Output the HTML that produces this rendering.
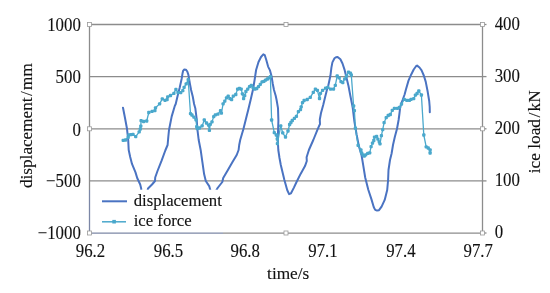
<!DOCTYPE html>
<html><head><meta charset="utf-8"><style>
html,body{margin:0;padding:0;background:#fff;}
svg{display:block;filter:blur(0.3px);}
text{font-family:"Liberation Serif",serif;fill:#111;stroke:#111;stroke-width:0.12px;} svg{font-size:17.5px;}
</style></head><body>
<svg width="550" height="293" viewBox="0 0 550 293">
<rect width="550" height="293" fill="#fff"/>
<g stroke="#8c8c8c" stroke-width="1.3" fill="none"><line x1="89.5" y1="24.5" x2="482.5" y2="24.5"/><line x1="89.5" y1="76.6" x2="482.5" y2="76.6"/><line x1="89.5" y1="128.8" x2="482.5" y2="128.8"/><line x1="89.5" y1="180.9" x2="482.5" y2="180.9"/><line x1="482.5" y1="24.5" x2="486.5" y2="24.5"/><line x1="482.5" y1="76.6" x2="486.5" y2="76.6"/><line x1="482.5" y1="128.8" x2="486.5" y2="128.8"/><line x1="482.5" y1="180.9" x2="486.5" y2="180.9"/><line x1="482.5" y1="233.0" x2="486.5" y2="233.0"/></g>
<path d="M123.0 107.7 L125.0 118.0 L127.0 128.8 L128.2 140.0 L128.7 150.0 L130.2 157.0 L132.0 163.9 L135.5 172.4 L137.2 178.0 L140.2 184.5 L141.2 188.5 L141.4 192.0 M147.3 192.0 L148.0 188.5 L152.0 184.5 L155.0 181.0 L155.2 177.5 L157.5 171.0 L161.6 160.7 L165.3 150.5 L167.6 145.0 L168.3 137.0 L169.0 130.0 L169.9 125.5 L171.7 116.4 L174.7 106.2 L175.7 104.0 L177.7 95.4 L179.8 87.2 L181.6 79.0 L182.5 73.6 L183.2 70.6 L184.3 69.5 L185.9 69.7 L187.3 71.5 L188.4 74.9 L189.1 79.0 L189.8 83.1 L191.1 90.0 L192.8 96.8 L194.1 104.0 L195.3 108.2 L196.7 119.1 L197.3 128.7 L198.7 140.0 L200.7 150.2 L202.4 162.2 L204.1 174.1 L205.8 181.0 L209.2 186.1 L210.3 190.0 M216.5 190.0 L217.6 188.0 L222.3 182.0 L223.2 178.0 L227.9 170.0 L232.5 162.0 L236.7 155.0 L238.6 150.0 L239.2 145.0 L240.2 140.0 L243.5 128.8 L246.8 115.6 L248.2 110.0 L250.6 100.0 L252.9 90.0 L254.6 80.0 L256.1 70.0 L258.5 62.0 L261.0 57.0 L263.3 54.4 L264.8 55.2 L266.3 60.0 L268.1 66.6 L270.0 70.4 L271.5 76.0 L272.8 84.0 L274.0 90.0 L275.7 95.7 L276.6 100.0 L278.0 108.2 L278.4 120.5 L278.0 132.8 L277.8 140.0 L278.3 150.0 L279.5 158.0 L280.8 165.0 L284.4 180.0 L287.2 190.0 L289.1 194.1 L291.0 193.3 L293.9 187.6 L296.3 182.5 L300.6 173.9 L305.0 166.1 L306.8 161.0 L306.6 157.2 L308.9 150.0 L310.2 147.0 L313.3 140.0 L317.8 128.8 L320.0 124.0 L319.8 119.5 L321.0 113.0 L323.2 105.0 L325.5 95.5 L326.9 90.0 L328.3 85.5 L330.4 75.8 L331.4 67.6 L332.4 62.4 L334.5 58.3 L336.0 57.2 L337.6 56.9 L340.4 59.2 L342.5 63.5 L344.5 69.6 L346.5 77.8 L348.5 86.0 L350.4 96.0 L352.2 105.0 L352.8 108.3 L354.4 121.7 L356.7 135.0 L358.9 146.1 L361.6 155.5 L363.2 165.2 L365.2 177.5 L368.3 189.8 L371.4 199.1 L373.8 207.3 L375.2 209.9 L377.0 210.6 L379.0 210.2 L381.6 206.6 L384.7 199.9 L387.2 190.0 L388.1 180.0 L388.5 170.0 L390.0 160.0 L391.6 153.5 L393.0 145.0 L394.8 137.0 L397.0 128.8 L398.6 120.0 L399.4 114.0 L400.1 108.0 L401.2 103.5 L402.8 99.5 L404.6 94.5 L406.0 89.2 L408.5 80.6 L411.1 74.7 L413.7 69.5 L416.2 66.0 L417.1 65.6 L419.5 67.5 L421.6 70.3 L423.8 75.5 L425.7 81.6 L427.7 91.8 L429.2 101.0 L429.7 107.0 L429.8 112.3" fill="none" stroke="#4a73c2" stroke-width="2" stroke-linejoin="round" stroke-linecap="round"/>
<path d="M123.2 140.3 L125.5 140.0 L128.2 137.3 L128.9 134.8 L131.0 134.6 L133.0 134.3 L135.7 136.6 L139.2 131.8 L140.3 129.0 L140.8 126.2 L141.1 120.6 L143.6 121.5 L146.7 121.0 L148.8 112.5 L152.1 111.4 L154.9 110.7 L155.5 107.8 L159.6 103.9 L162.3 98.9 L165.0 100.3 L167.1 99.6 L167.7 96.8 L170.5 95.5 L173.9 93.4 L175.9 89.3 L178.0 92.7 L180.7 92.7 L182.8 90.7 L184.1 87.3 L186.2 83.9 L188.2 79.7 L190.5 113.7 L191.9 115.0 L193.9 117.1 L196.0 119.8 L196.7 126.6 L197.3 128.7 L199.4 128.0 L202.1 125.9 L204.3 120.0 L206.5 123.0 L208.5 125.2 L209.4 130.3 L210.3 124.3 L212.0 121.8 L213.7 116.6 L215.4 114.9 L217.9 114.1 L220.5 110.6 L221.4 113.2 L223.1 103.8 L224.8 101.2 L226.5 97.8 L228.2 96.1 L229.9 98.7 L231.6 99.5 L233.3 96.1 L235.8 94.5 L237.6 89.1 L239.4 88.5 L241.2 89.1 L242.4 93.9 L243.6 98.7 L244.7 95.7 L245.9 91.5 L247.7 89.1 L249.5 86.7 L251.3 85.5 L253.1 87.9 L254.9 89.1 L256.7 88.5 L258.5 86.7 L260.3 84.3 L262.1 81.9 L263.9 81.3 L265.6 80.1 L267.4 79.0 L269.2 77.8 L270.4 76.6 L271.6 120.0 L274.3 132.7 L276.3 135.0 L277.3 139.0 L277.4 143.6 L280.7 125.9 L282.7 132.8 L285.5 137.1 L288.0 131.0 L289.6 124.5 L290.9 122.5 L292.3 120.5 L294.4 118.4 L296.4 116.4 L298.4 111.6 L300.5 109.6 L301.2 106.8 L302.5 102.7 L304.1 100.5 L307.2 99.5 L310.3 97.4 L313.3 92.3 L315.4 89.2 L317.4 90.3 L319.5 98.5 L320.5 93.3 L322.6 90.3 L325.6 88.2 L327.8 87.3 L330.6 89.1 L333.5 89.1 L335.3 85.4 L337.2 76.0 L339.1 77.9 L341.0 81.6 L342.8 82.6 L344.7 78.8 L346.6 76.0 L348.5 72.2 L350.4 73.2 L351.3 75.0 L353.6 106.0 L354.4 110.6 L355.4 128.2 L358.1 145.3 L360.9 150.0 L361.6 152.8 L362.9 154.8 L364.3 156.2 L365.7 154.8 L367.7 153.4 L369.7 152.8 L371.1 146.6 L372.5 143.2 L373.8 140.5 L374.5 137.1 L376.6 136.4 L377.9 139.1 L379.3 141.8 L380.0 143.9 L381.4 135.7 L382.7 129.6 L384.1 122.7 L386.2 117.6 L388.2 115.5 L390.3 114.5 L392.3 110.4 L394.4 108.3 L397.4 108.3 L399.5 107.3 L401.5 104.2 L404.3 99.4 L406.8 100.3 L409.4 100.3 L411.1 99.4 L413.7 98.6 L415.4 95.2 L417.1 93.5 L418.8 90.9 L421.4 95.0 L423.8 135.0 L426.2 146.9 L428.2 148.0 L430.1 150.0 L430.1 153.0" fill="none" stroke="#4aa8cc" stroke-width="1.3" stroke-linejoin="round"/>
<g fill="#4aa8cc"><rect x="121.55" y="138.65" width="3.3" height="3.3" rx="1"/><rect x="123.85" y="138.35" width="3.3" height="3.3" rx="1"/><rect x="126.55" y="135.65" width="3.3" height="3.3" rx="1"/><rect x="127.25" y="133.15" width="3.3" height="3.3" rx="1"/><rect x="129.35" y="132.95" width="3.3" height="3.3" rx="1"/><rect x="131.35" y="132.65" width="3.3" height="3.3" rx="1"/><rect x="134.05" y="134.95" width="3.3" height="3.3" rx="1"/><rect x="137.55" y="130.15" width="3.3" height="3.3" rx="1"/><rect x="138.65" y="127.35" width="3.3" height="3.3" rx="1"/><rect x="139.15" y="124.55" width="3.3" height="3.3" rx="1"/><rect x="139.45" y="118.95" width="3.3" height="3.3" rx="1"/><rect x="141.95" y="119.85" width="3.3" height="3.3" rx="1"/><rect x="145.05" y="119.35" width="3.3" height="3.3" rx="1"/><rect x="147.15" y="110.85" width="3.3" height="3.3" rx="1"/><rect x="150.45" y="109.75" width="3.3" height="3.3" rx="1"/><rect x="153.25" y="109.05" width="3.3" height="3.3" rx="1"/><rect x="153.85" y="106.15" width="3.3" height="3.3" rx="1"/><rect x="157.95" y="102.25" width="3.3" height="3.3" rx="1"/><rect x="160.65" y="97.25" width="3.3" height="3.3" rx="1"/><rect x="163.35" y="98.65" width="3.3" height="3.3" rx="1"/><rect x="165.45" y="97.95" width="3.3" height="3.3" rx="1"/><rect x="166.05" y="95.15" width="3.3" height="3.3" rx="1"/><rect x="168.85" y="93.85" width="3.3" height="3.3" rx="1"/><rect x="172.25" y="91.75" width="3.3" height="3.3" rx="1"/><rect x="174.25" y="87.65" width="3.3" height="3.3" rx="1"/><rect x="176.35" y="91.05" width="3.3" height="3.3" rx="1"/><rect x="179.05" y="91.05" width="3.3" height="3.3" rx="1"/><rect x="181.15" y="89.05" width="3.3" height="3.3" rx="1"/><rect x="182.45" y="85.65" width="3.3" height="3.3" rx="1"/><rect x="184.55" y="82.25" width="3.3" height="3.3" rx="1"/><rect x="186.55" y="78.05" width="3.3" height="3.3" rx="1"/><rect x="188.85" y="112.05" width="3.3" height="3.3" rx="1"/><rect x="190.25" y="113.35" width="3.3" height="3.3" rx="1"/><rect x="192.25" y="115.45" width="3.3" height="3.3" rx="1"/><rect x="194.35" y="118.15" width="3.3" height="3.3" rx="1"/><rect x="195.05" y="124.95" width="3.3" height="3.3" rx="1"/><rect x="195.65" y="127.05" width="3.3" height="3.3" rx="1"/><rect x="197.75" y="126.35" width="3.3" height="3.3" rx="1"/><rect x="200.45" y="124.25" width="3.3" height="3.3" rx="1"/><rect x="202.65" y="118.35" width="3.3" height="3.3" rx="1"/><rect x="204.85" y="121.35" width="3.3" height="3.3" rx="1"/><rect x="206.85" y="123.55" width="3.3" height="3.3" rx="1"/><rect x="207.75" y="128.65" width="3.3" height="3.3" rx="1"/><rect x="208.65" y="122.65" width="3.3" height="3.3" rx="1"/><rect x="210.35" y="120.15" width="3.3" height="3.3" rx="1"/><rect x="212.05" y="114.95" width="3.3" height="3.3" rx="1"/><rect x="213.75" y="113.25" width="3.3" height="3.3" rx="1"/><rect x="216.25" y="112.45" width="3.3" height="3.3" rx="1"/><rect x="218.85" y="108.95" width="3.3" height="3.3" rx="1"/><rect x="219.75" y="111.55" width="3.3" height="3.3" rx="1"/><rect x="221.45" y="102.15" width="3.3" height="3.3" rx="1"/><rect x="223.15" y="99.55" width="3.3" height="3.3" rx="1"/><rect x="224.85" y="96.15" width="3.3" height="3.3" rx="1"/><rect x="226.55" y="94.45" width="3.3" height="3.3" rx="1"/><rect x="228.25" y="97.05" width="3.3" height="3.3" rx="1"/><rect x="229.95" y="97.85" width="3.3" height="3.3" rx="1"/><rect x="231.65" y="94.45" width="3.3" height="3.3" rx="1"/><rect x="234.15" y="92.85" width="3.3" height="3.3" rx="1"/><rect x="235.95" y="87.45" width="3.3" height="3.3" rx="1"/><rect x="237.75" y="86.85" width="3.3" height="3.3" rx="1"/><rect x="239.55" y="87.45" width="3.3" height="3.3" rx="1"/><rect x="240.75" y="92.25" width="3.3" height="3.3" rx="1"/><rect x="241.95" y="97.05" width="3.3" height="3.3" rx="1"/><rect x="243.05" y="94.05" width="3.3" height="3.3" rx="1"/><rect x="244.25" y="89.85" width="3.3" height="3.3" rx="1"/><rect x="246.05" y="87.45" width="3.3" height="3.3" rx="1"/><rect x="247.85" y="85.05" width="3.3" height="3.3" rx="1"/><rect x="249.65" y="83.85" width="3.3" height="3.3" rx="1"/><rect x="251.45" y="86.25" width="3.3" height="3.3" rx="1"/><rect x="253.25" y="87.45" width="3.3" height="3.3" rx="1"/><rect x="255.05" y="86.85" width="3.3" height="3.3" rx="1"/><rect x="256.85" y="85.05" width="3.3" height="3.3" rx="1"/><rect x="258.65" y="82.65" width="3.3" height="3.3" rx="1"/><rect x="260.45" y="80.25" width="3.3" height="3.3" rx="1"/><rect x="262.25" y="79.65" width="3.3" height="3.3" rx="1"/><rect x="263.95" y="78.45" width="3.3" height="3.3" rx="1"/><rect x="265.75" y="77.35" width="3.3" height="3.3" rx="1"/><rect x="267.55" y="76.15" width="3.3" height="3.3" rx="1"/><rect x="268.75" y="74.95" width="3.3" height="3.3" rx="1"/><rect x="269.95" y="118.35" width="3.3" height="3.3" rx="1"/><rect x="272.65" y="131.05" width="3.3" height="3.3" rx="1"/><rect x="274.65" y="133.35" width="3.3" height="3.3" rx="1"/><rect x="275.65" y="137.35" width="3.3" height="3.3" rx="1"/><rect x="275.75" y="141.95" width="3.3" height="3.3" rx="1"/><rect x="279.05" y="124.25" width="3.3" height="3.3" rx="1"/><rect x="281.05" y="131.15" width="3.3" height="3.3" rx="1"/><rect x="283.85" y="135.45" width="3.3" height="3.3" rx="1"/><rect x="286.35" y="129.35" width="3.3" height="3.3" rx="1"/><rect x="287.95" y="122.85" width="3.3" height="3.3" rx="1"/><rect x="289.25" y="120.85" width="3.3" height="3.3" rx="1"/><rect x="290.65" y="118.85" width="3.3" height="3.3" rx="1"/><rect x="292.75" y="116.75" width="3.3" height="3.3" rx="1"/><rect x="294.75" y="114.75" width="3.3" height="3.3" rx="1"/><rect x="296.75" y="109.95" width="3.3" height="3.3" rx="1"/><rect x="298.85" y="107.95" width="3.3" height="3.3" rx="1"/><rect x="299.55" y="105.15" width="3.3" height="3.3" rx="1"/><rect x="300.85" y="101.05" width="3.3" height="3.3" rx="1"/><rect x="302.45" y="98.85" width="3.3" height="3.3" rx="1"/><rect x="305.55" y="97.85" width="3.3" height="3.3" rx="1"/><rect x="308.65" y="95.75" width="3.3" height="3.3" rx="1"/><rect x="311.65" y="90.65" width="3.3" height="3.3" rx="1"/><rect x="313.75" y="87.55" width="3.3" height="3.3" rx="1"/><rect x="315.75" y="88.65" width="3.3" height="3.3" rx="1"/><rect x="317.85" y="96.85" width="3.3" height="3.3" rx="1"/><rect x="318.85" y="91.65" width="3.3" height="3.3" rx="1"/><rect x="320.95" y="88.65" width="3.3" height="3.3" rx="1"/><rect x="323.95" y="86.55" width="3.3" height="3.3" rx="1"/><rect x="326.15" y="85.65" width="3.3" height="3.3" rx="1"/><rect x="328.95" y="87.45" width="3.3" height="3.3" rx="1"/><rect x="331.85" y="87.45" width="3.3" height="3.3" rx="1"/><rect x="333.65" y="83.75" width="3.3" height="3.3" rx="1"/><rect x="335.55" y="74.35" width="3.3" height="3.3" rx="1"/><rect x="337.45" y="76.25" width="3.3" height="3.3" rx="1"/><rect x="339.35" y="79.95" width="3.3" height="3.3" rx="1"/><rect x="341.15" y="80.95" width="3.3" height="3.3" rx="1"/><rect x="343.05" y="77.15" width="3.3" height="3.3" rx="1"/><rect x="344.95" y="74.35" width="3.3" height="3.3" rx="1"/><rect x="346.85" y="70.55" width="3.3" height="3.3" rx="1"/><rect x="348.75" y="71.55" width="3.3" height="3.3" rx="1"/><rect x="349.65" y="73.35" width="3.3" height="3.3" rx="1"/><rect x="351.95" y="104.35" width="3.3" height="3.3" rx="1"/><rect x="352.75" y="108.95" width="3.3" height="3.3" rx="1"/><rect x="353.75" y="126.55" width="3.3" height="3.3" rx="1"/><rect x="356.45" y="143.65" width="3.3" height="3.3" rx="1"/><rect x="359.25" y="148.35" width="3.3" height="3.3" rx="1"/><rect x="359.95" y="151.15" width="3.3" height="3.3" rx="1"/><rect x="361.25" y="153.15" width="3.3" height="3.3" rx="1"/><rect x="362.65" y="154.55" width="3.3" height="3.3" rx="1"/><rect x="364.05" y="153.15" width="3.3" height="3.3" rx="1"/><rect x="366.05" y="151.75" width="3.3" height="3.3" rx="1"/><rect x="368.05" y="151.15" width="3.3" height="3.3" rx="1"/><rect x="369.45" y="144.95" width="3.3" height="3.3" rx="1"/><rect x="370.85" y="141.55" width="3.3" height="3.3" rx="1"/><rect x="372.15" y="138.85" width="3.3" height="3.3" rx="1"/><rect x="372.85" y="135.45" width="3.3" height="3.3" rx="1"/><rect x="374.95" y="134.75" width="3.3" height="3.3" rx="1"/><rect x="376.25" y="137.45" width="3.3" height="3.3" rx="1"/><rect x="377.65" y="140.15" width="3.3" height="3.3" rx="1"/><rect x="378.35" y="142.25" width="3.3" height="3.3" rx="1"/><rect x="379.75" y="134.05" width="3.3" height="3.3" rx="1"/><rect x="381.05" y="127.95" width="3.3" height="3.3" rx="1"/><rect x="382.45" y="121.05" width="3.3" height="3.3" rx="1"/><rect x="384.55" y="115.95" width="3.3" height="3.3" rx="1"/><rect x="386.55" y="113.85" width="3.3" height="3.3" rx="1"/><rect x="388.65" y="112.85" width="3.3" height="3.3" rx="1"/><rect x="390.65" y="108.75" width="3.3" height="3.3" rx="1"/><rect x="392.75" y="106.65" width="3.3" height="3.3" rx="1"/><rect x="395.75" y="106.65" width="3.3" height="3.3" rx="1"/><rect x="397.85" y="105.65" width="3.3" height="3.3" rx="1"/><rect x="399.85" y="102.55" width="3.3" height="3.3" rx="1"/><rect x="402.65" y="97.75" width="3.3" height="3.3" rx="1"/><rect x="405.15" y="98.65" width="3.3" height="3.3" rx="1"/><rect x="407.75" y="98.65" width="3.3" height="3.3" rx="1"/><rect x="409.45" y="97.75" width="3.3" height="3.3" rx="1"/><rect x="412.05" y="96.95" width="3.3" height="3.3" rx="1"/><rect x="413.75" y="93.55" width="3.3" height="3.3" rx="1"/><rect x="415.45" y="91.85" width="3.3" height="3.3" rx="1"/><rect x="417.15" y="89.25" width="3.3" height="3.3" rx="1"/><rect x="419.75" y="93.35" width="3.3" height="3.3" rx="1"/><rect x="422.15" y="133.35" width="3.3" height="3.3" rx="1"/><rect x="424.55" y="145.25" width="3.3" height="3.3" rx="1"/><rect x="426.55" y="146.35" width="3.3" height="3.3" rx="1"/><rect x="428.45" y="148.35" width="3.3" height="3.3" rx="1"/><rect x="428.45" y="151.35" width="3.3" height="3.3" rx="1"/></g>
<rect x="90.2" y="189.7" width="140" height="42.7" fill="#fff"/>
<g stroke="#8c8c8c" stroke-width="1.3" fill="none">
<line x1="89.5" y1="24" x2="89.5" y2="190"/><line x1="482.5" y1="24" x2="482.5" y2="233.5"/><line x1="223" y1="233.2" x2="483" y2="233.2"/>
</g>
<g stroke="#7c87a6" stroke-width="1.3" fill="none"><line x1="89.5" y1="190" x2="89.5" y2="233.5"/><line x1="89" y1="233.2" x2="223" y2="233.2"/></g>
<g fill="#fff" stroke="#999" stroke-width="0.8"><rect x="87.5" y="22.5" width="4" height="4"/><rect x="284.0" y="22.5" width="4" height="4"/><rect x="480.5" y="22.5" width="4" height="4"/><rect x="87.5" y="126.8" width="4" height="4"/><rect x="480.5" y="126.8" width="4" height="4"/><rect x="87.5" y="231.0" width="4" height="4"/><rect x="284.0" y="231.0" width="4" height="4"/><rect x="480.5" y="231.0" width="4" height="4"/></g>
<line x1="102" y1="201.3" x2="127" y2="201.3" stroke="#4a73c2" stroke-width="2"/>
<line x1="102" y1="221.8" x2="126" y2="221.8" stroke="#4aa8cc" stroke-width="1.5"/>
<rect x="112.3" y="219.9" width="3.6" height="3.6" fill="#4aa8cc"/>
<g><text transform="translate(80.8 30.5) scale(0.930 1)" text-anchor="end" style="font-size:18.1px">1000</text><text transform="translate(80.8 82.6) scale(0.930 1)" text-anchor="end" style="font-size:18.1px">500</text><text transform="translate(80.8 136.3) scale(0.930 1)" text-anchor="end" style="font-size:18.1px">0</text><text transform="translate(80.8 186.9) scale(0.930 1)" text-anchor="end" style="font-size:18.1px">−500</text><text transform="translate(80.8 239.0) scale(0.930 1)" text-anchor="end" style="font-size:18.1px">−1000</text><text transform="translate(494.7 29.9) scale(0.930 1)" style="font-size:18.1px">400</text><text transform="translate(494.7 82.0) scale(0.930 1)" style="font-size:18.1px">300</text><text transform="translate(494.7 134.2) scale(0.930 1)" style="font-size:18.1px">200</text><text transform="translate(494.7 186.3) scale(0.930 1)" style="font-size:18.1px">100</text><text transform="translate(494.7 238.4) scale(0.930 1)" style="font-size:18.1px">0</text><text transform="translate(90.5 257.3) scale(0.930 1)" text-anchor="middle" style="font-size:18.1px">96.2</text><text transform="translate(168.5 257.3) scale(0.930 1)" text-anchor="middle" style="font-size:18.1px">96.5</text><text transform="translate(245.2 257.3) scale(0.930 1)" text-anchor="middle" style="font-size:18.1px">96.8</text><text transform="translate(323.0 257.3) scale(0.930 1)" text-anchor="middle" style="font-size:18.1px">97.1</text><text transform="translate(400.9 257.3) scale(0.930 1)" text-anchor="middle" style="font-size:18.1px">97.4</text><text transform="translate(478.2 257.3) scale(0.930 1)" text-anchor="middle" style="font-size:18.1px">97.7</text></g>
<text transform="translate(133.7 206.1) scale(0.955 1)">displacement</text>
<text transform="translate(133.7 225.7) scale(0.955 1)">ice force</text>
<g style="font-size:17.3px">
<text transform="translate(288.2 278.6) scale(1.0 1)" text-anchor="middle">time/s</text>
<text transform="translate(32.3 125.6) rotate(-90) scale(0.993 1)" text-anchor="middle">displacement<tspan dx="1.6">/</tspan><tspan dx="1.2">mm</tspan></text>
<text transform="translate(540.4 131.8) rotate(-90) scale(1.0 1)" text-anchor="middle">ice load<tspan dx="1.6">/</tspan><tspan dx="1.2">kN</tspan></text>
</g>
</svg>
</body></html>
